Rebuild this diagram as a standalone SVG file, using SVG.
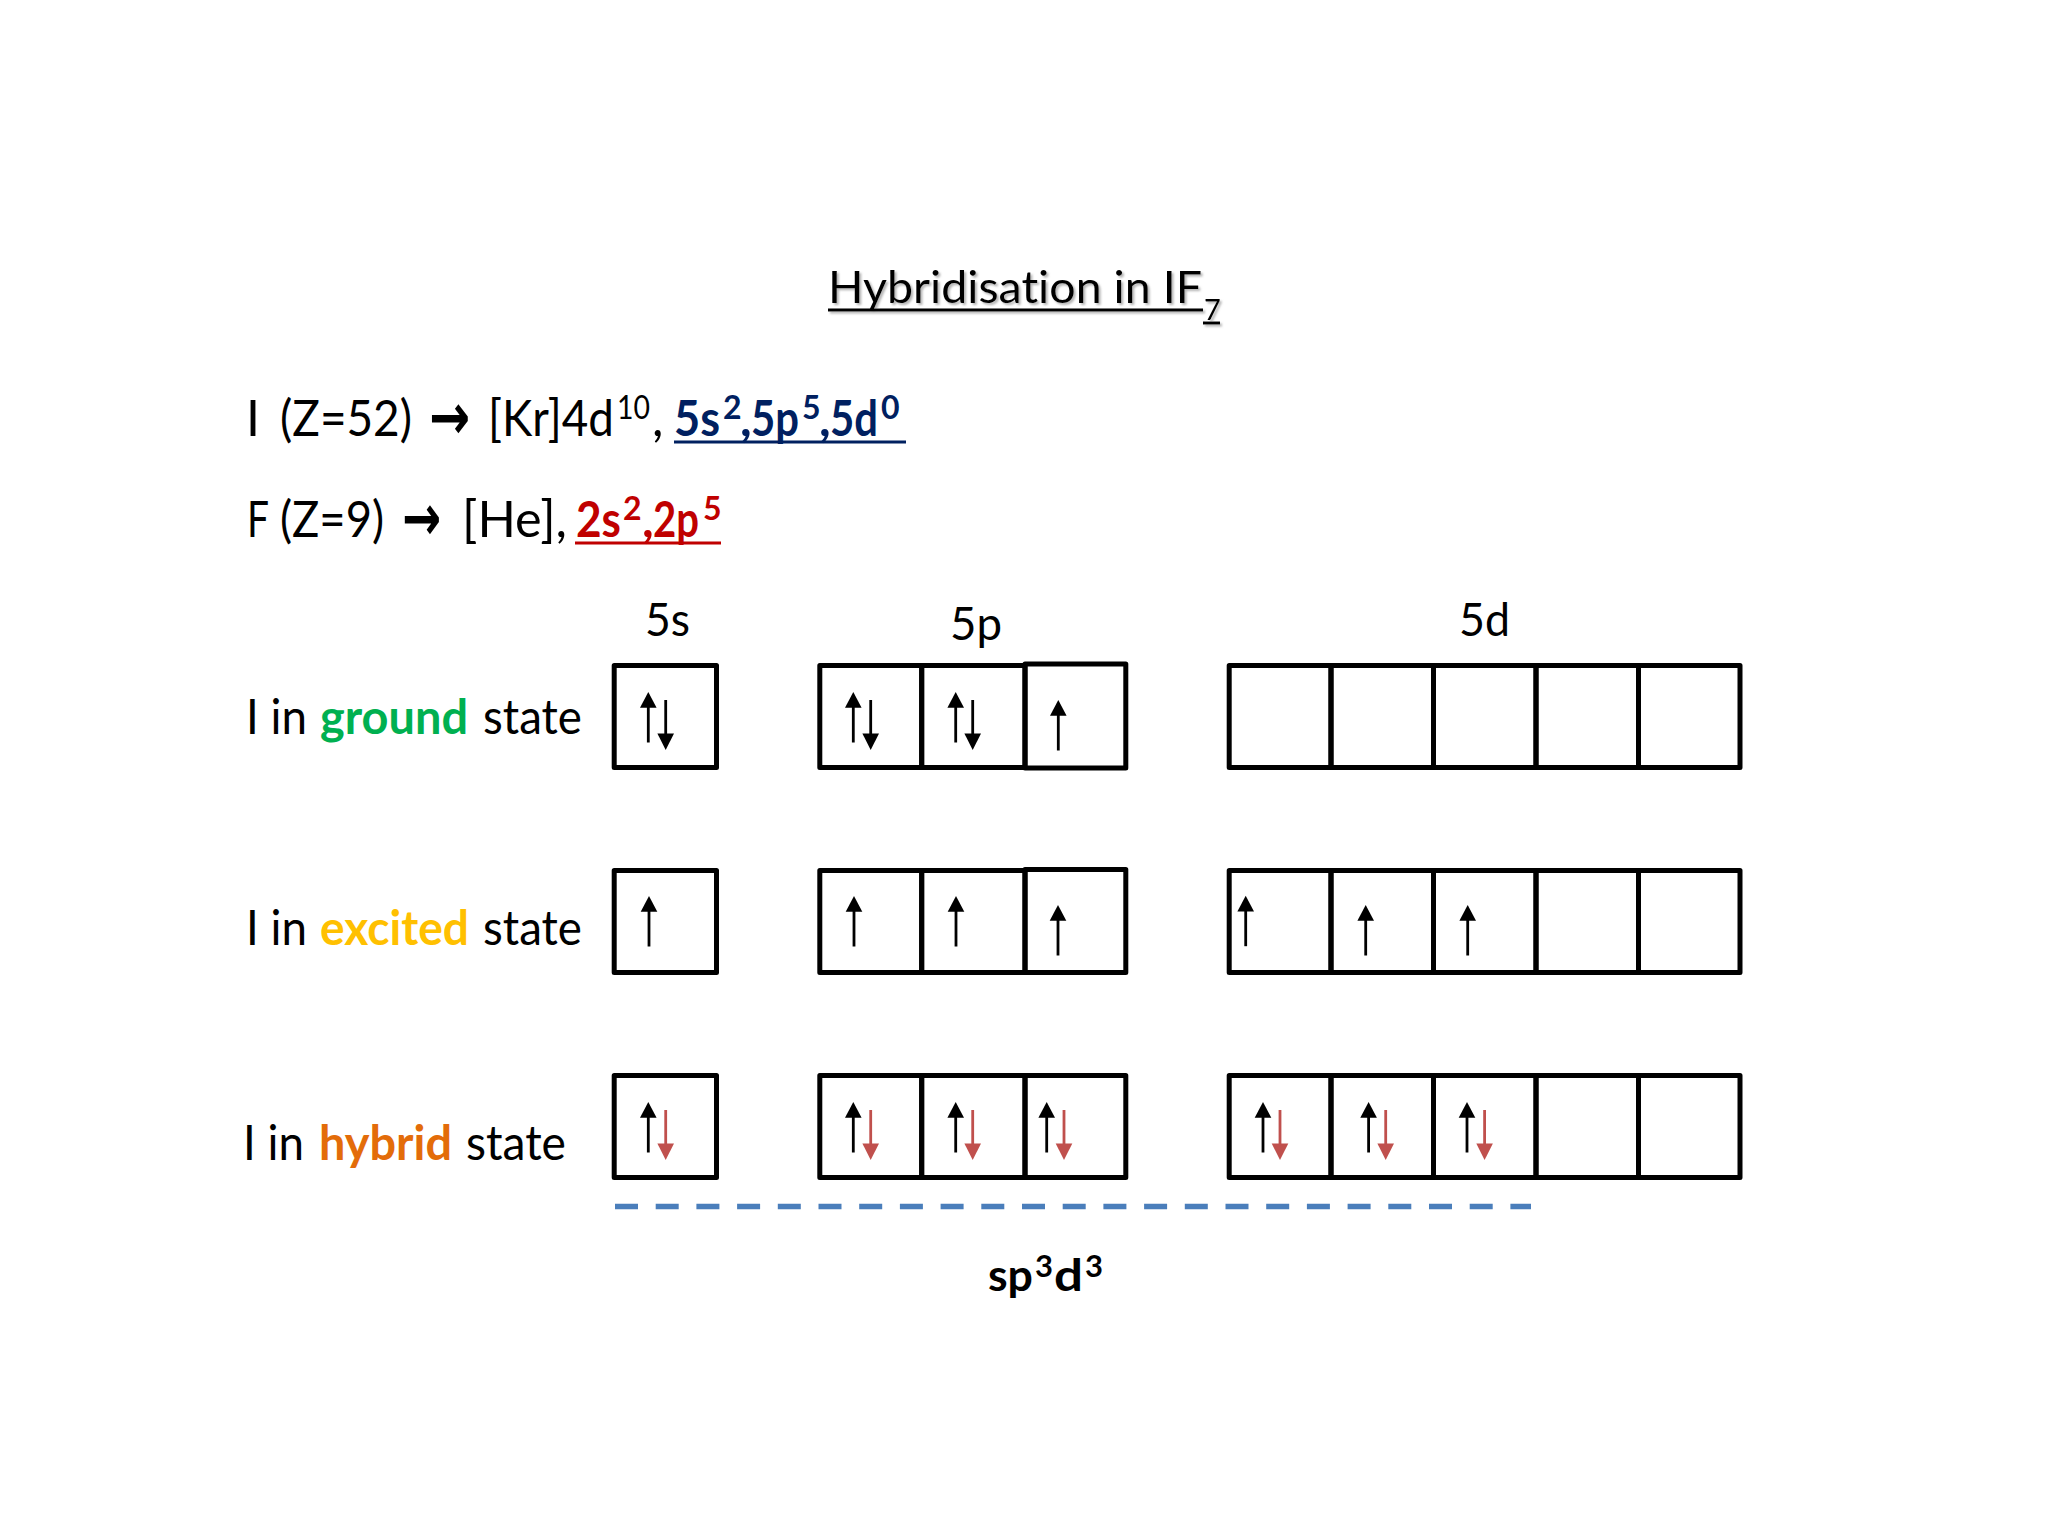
<svg xmlns="http://www.w3.org/2000/svg" xmlns:xlink="http://www.w3.org/1999/xlink" width="2048" height="1536" viewBox="0 0 2048 1536">
<style>
text{font-family:Lato,"Open Sans","Liberation Sans",sans-serif;fill:#000;font-variant-ligatures:none;font-feature-settings:"liga" 0}
.t{font-size:50px}
.sup{font-size:32px}
.lab{font-size:48px}
.orb{font-size:46px}
.b{font-weight:bold}
.arr{font-family:"DejaVu Sans",sans-serif;font-weight:bold;font-size:64px}
.cell{fill:none;stroke:#000;stroke-width:5;stroke-linejoin:round}
.navy{fill:#002060}
.red{fill:#C00000}
</style>
<defs>
<filter id="sh" x="-5%" y="-20%" width="110%" height="150%">
<feDropShadow dx="2" dy="2" stdDeviation="1.2" flood-color="#777" flood-opacity="0.55"/>
</filter>
<g id="up"><line x1="0" y1="14" x2="0" y2="50.5" stroke="#000" stroke-width="2.8"/><polygon points="0,0 -8.3,15.7 8.3,15.7" fill="#000"/></g>
<g id="dn"><line x1="0" y1="0" x2="0" y2="36" stroke="#000" stroke-width="2.8"/><polygon points="0,50 -8.3,33.5 8.3,33.5" fill="#000"/></g>
<g id="dnr"><line x1="0" y1="0" x2="0" y2="36" stroke="#C0504D" stroke-width="2.8"/><polygon points="0,50 -8.3,33.5 8.3,33.5" fill="#C0504D"/></g>
</defs>
<rect width="2048" height="1536" fill="#fff"/>

<g id="title" filter="url(#sh)">
<text font-size="44"><tspan x="828" y="303" textLength="374" lengthAdjust="spacingAndGlyphs">Hybridisation in IF</tspan><tspan x="1204" y="320" font-size="29">7</tspan></text>
<line x1="828" y1="310" x2="1203" y2="310" stroke="#000" stroke-width="3"/>
<line x1="1203" y1="323" x2="1220" y2="323" stroke="#000" stroke-width="3"/>
</g>

<g id="config-I">
<text class="t" x="246" y="436">I</text>
<text class="t" x="280" y="436" textLength="132" lengthAdjust="spacingAndGlyphs">(Z=52)</text>
<text class="arr" x="429" y="439" textLength="41" lengthAdjust="spacingAndGlyphs">→</text>
<text class="t"><tspan x="488" y="436" textLength="126" lengthAdjust="spacingAndGlyphs">[Kr]4d</tspan><tspan class="sup" x="617" y="419" textLength="33" lengthAdjust="spacingAndGlyphs">10</tspan><tspan x="652" y="436">,</tspan></text>
<text class="t b navy"><tspan x="674" y="436" textLength="46" lengthAdjust="spacingAndGlyphs">5s</tspan><tspan class="sup" x="723" y="419">2</tspan><tspan x="740" y="436">,</tspan><tspan x="751" y="436" textLength="48" lengthAdjust="spacingAndGlyphs">5p</tspan><tspan class="sup" x="802" y="419">5</tspan><tspan x="819" y="436">,</tspan><tspan x="830" y="436" textLength="48" lengthAdjust="spacingAndGlyphs">5d</tspan><tspan class="sup" x="881" y="419">0</tspan></text>
<line x1="674" y1="442" x2="906" y2="442" stroke="#002060" stroke-width="3"/>
</g>

<g id="config-F">
<text class="t" x="247" y="537" textLength="22" lengthAdjust="spacingAndGlyphs">F</text>
<text class="t" x="280" y="537" textLength="104" lengthAdjust="spacingAndGlyphs">(Z=9)</text>
<text class="arr" x="402" y="540" textLength="39" lengthAdjust="spacingAndGlyphs">→</text>
<text class="t" x="462" y="537" textLength="105" lengthAdjust="spacingAndGlyphs">[He],</text>
<text class="t b red"><tspan x="576" y="537" textLength="45" lengthAdjust="spacingAndGlyphs">2s</tspan><tspan class="sup" x="623" y="520">2</tspan><tspan x="642" y="537">,</tspan><tspan x="653" y="537" textLength="46" lengthAdjust="spacingAndGlyphs">2p</tspan><tspan class="sup" x="703" y="520">5</tspan></text>
<line x1="575" y1="543" x2="721" y2="543" stroke="#C00000" stroke-width="3"/>
</g>

<g id="orbital-labels">
<text class="orb" x="645" y="636" textLength="45" lengthAdjust="spacingAndGlyphs">5s</text>
<text class="orb" x="950" y="640" textLength="52" lengthAdjust="spacingAndGlyphs">5p</text>
<text class="orb" x="1459" y="636" textLength="51" lengthAdjust="spacingAndGlyphs">5d</text>
</g>

<g id="row-labels">
<text class="lab" x="246" y="734" textLength="61" lengthAdjust="spacingAndGlyphs">I in</text>
<text class="lab b" x="320" y="734" style="fill:#00B050" textLength="148" lengthAdjust="spacingAndGlyphs">ground</text>
<text class="lab" x="483" y="734" textLength="99" lengthAdjust="spacingAndGlyphs">state</text>
<text class="lab" x="246" y="945" textLength="61" lengthAdjust="spacingAndGlyphs">I in</text>
<text class="lab b" x="320" y="945" style="fill:#FFC000" textLength="149" lengthAdjust="spacingAndGlyphs">excited</text>
<text class="lab" x="483" y="945" textLength="99" lengthAdjust="spacingAndGlyphs">state</text>
<text class="lab" x="243" y="1160" textLength="61" lengthAdjust="spacingAndGlyphs">I in</text>
<text class="lab b" x="319" y="1160" style="fill:#E36C09" textLength="133" lengthAdjust="spacingAndGlyphs">hybrid</text>
<text class="lab" x="466" y="1160" textLength="100" lengthAdjust="spacingAndGlyphs">state</text>
</g>

<!-- ground state -->
<g id="ground-5s">
<rect class="cell" x="614.2" y="665.5" width="102.3" height="102"/>
<use href="#up" x="648.3" y="692"/><use href="#dn" x="665.7" y="700"/>
</g>
<g id="ground-5p">
<rect class="cell" x="819.8" y="665.5" width="101.9" height="102"/>
<rect class="cell" x="921.7" y="665.5" width="103.3" height="102"/>
<rect class="cell" x="1025" y="664" width="100.8" height="104"/>
<use href="#up" x="853.3" y="692"/><use href="#dn" x="870.7" y="700"/>
<use href="#up" x="955.7" y="692"/><use href="#dn" x="972.7" y="700"/>
<use href="#up" x="1058.3" y="700"/>
</g>
<g id="ground-5d">
<rect class="cell" x="1229.2" y="665.5" width="101.8" height="102"/>
<rect class="cell" x="1331" y="665.5" width="102.5" height="102"/>
<rect class="cell" x="1433.5" y="665.5" width="102.5" height="102"/>
<rect class="cell" x="1536" y="665.5" width="102.5" height="102"/>
<rect class="cell" x="1638.5" y="665.5" width="101.5" height="102"/>
</g>

<!-- excited state -->
<g id="excited-5s">
<rect class="cell" x="614.2" y="870.5" width="102.3" height="102"/>
<use href="#up" x="649" y="896"/>
</g>
<g id="excited-5p">
<rect class="cell" x="819.8" y="870.5" width="101.9" height="102"/>
<rect class="cell" x="921.7" y="870.5" width="103.3" height="102"/>
<rect class="cell" x="1025" y="869.5" width="100.8" height="103"/>
<use href="#up" x="854" y="896"/>
<use href="#up" x="956" y="896"/>
<use href="#up" x="1058" y="905"/>
</g>
<g id="excited-5d">
<rect class="cell" x="1229.2" y="870.5" width="101.8" height="102"/>
<rect class="cell" x="1331" y="870.5" width="102.5" height="102"/>
<rect class="cell" x="1433.5" y="870.5" width="102.5" height="102"/>
<rect class="cell" x="1536" y="870.5" width="102.5" height="102"/>
<rect class="cell" x="1638.5" y="870.5" width="101.5" height="102"/>
<use href="#up" x="1245.7" y="895.7"/>
<use href="#up" x="1365.7" y="905"/>
<use href="#up" x="1467.7" y="905"/>
</g>

<!-- hybrid state -->
<g id="hybrid-5s">
<rect class="cell" x="614.2" y="1075.5" width="102.3" height="102"/>
<use href="#up" x="648.3" y="1102"/><use href="#dnr" x="665.7" y="1110"/>
</g>
<g id="hybrid-5p">
<rect class="cell" x="819.8" y="1075.5" width="101.9" height="102"/>
<rect class="cell" x="921.7" y="1075.5" width="103.3" height="102"/>
<rect class="cell" x="1025" y="1075.5" width="100.8" height="102"/>
<use href="#up" x="853.3" y="1102"/><use href="#dnr" x="870.7" y="1110"/>
<use href="#up" x="955.7" y="1102"/><use href="#dnr" x="972.7" y="1110"/>
<use href="#up" x="1046.7" y="1102"/><use href="#dnr" x="1064" y="1110"/>
</g>
<g id="hybrid-5d">
<rect class="cell" x="1229.2" y="1075.5" width="101.8" height="102"/>
<rect class="cell" x="1331" y="1075.5" width="102.5" height="102"/>
<rect class="cell" x="1433.5" y="1075.5" width="102.5" height="102"/>
<rect class="cell" x="1536" y="1075.5" width="102.5" height="102"/>
<rect class="cell" x="1638.5" y="1075.5" width="101.5" height="102"/>
<use href="#up" x="1263" y="1102"/><use href="#dnr" x="1280" y="1110"/>
<use href="#up" x="1368.6" y="1102"/><use href="#dnr" x="1385.7" y="1110"/>
<use href="#up" x="1467" y="1102"/><use href="#dnr" x="1484.6" y="1110"/>
</g>

<g id="connectors">
<line x1="615" y1="1206.5" x2="1531" y2="1206.5" stroke="#4A7EBB" stroke-width="5.5" stroke-dasharray="23 17.7"/>
</g>

<g id="hybrid-label">
<text class="b" font-size="44"><tspan x="988" y="1291" textLength="45" lengthAdjust="spacingAndGlyphs">sp</tspan><tspan x="1035" y="1277" font-size="31">3</tspan><tspan x="1054" y="1291" textLength="29" lengthAdjust="spacingAndGlyphs">d</tspan><tspan x="1085" y="1277" font-size="31">3</tspan></text>
</g>
</svg>
